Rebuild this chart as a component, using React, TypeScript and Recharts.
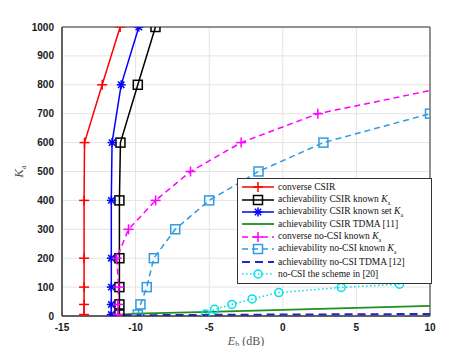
import { LineChart, Line, XAxis, YAxis, CartesianGrid, Legend, ReferenceArea } from 'recharts';

// E_b (dB) and K_a values, one pair of arrays per curve
const conversCsirEb = [-13.5, -13.5, -13.5, -13.5, -13.5, -13.47, -12.27, -11.05];
const conversCsirKa = [5, 40, 100, 200, 400, 600, 800, 1000];

const achCsirEb = [-11.1, -11.1, -11.1, -11.1, -11.1, -11.03, -9.85, -8.65];
const achCsirKa = [5, 40, 100, 200, 400, 600, 800, 1000];

const achCsirSetEb = [-11.65, -11.65, -11.65, -11.65, -11.65, -11.6, -10.98, -9.78];
const achCsirSetKa = [5, 40, 100, 200, 400, 600, 800, 1000];

const csirTdmaEb = [-11.7, -11, -10, -5, 0, 5, 10];
const csirTdmaKa = [0, 5, 8, 14, 21, 28, 35];

const conversNoCsiEb = [-11.2, -11.2, -11.15, -11.28, -10.48, -8.64, -6.27, -2.83, 2.38, 10];
const conversNoCsiKa = [5, 40, 100, 200, 300, 400, 500, 600, 700, 780];

const achNoCsiEb = [-9.85, -9.67, -9.24, -8.76, -7.31, -5.0, -1.65, 2.76, 10];
const achNoCsiKa = [5, 40, 100, 200, 300, 400, 500, 600, 700];

const noCsiTdmaEb = [-11.7, -5, 0, 5, 10];
const noCsiTdmaKa = [2, 4, 5, 6, 7];

const scheme20Eb = [-5.25, -4.64, -3.46, -2.08, -0.27, 3.97, 7.93];
const scheme20Ka = [7, 23, 40, 59, 81, 99, 110];

const xTicks = [-15, -10, -5, 0, 5, 10];
const yTicks = [0, 100, 200, 300, 400, 500, 600, 700, 800, 900, 1000];

const pts = (eb: number[], ka: number[]) => eb.map((x, i) => ({ eb: x, ka: ka[i] }));

type Marker = 'plus' | 'square' | 'star' | 'circle' | 'none';

const drawMarker = (kind: Marker, cx: number, cy: number, color: string, key?: any) => {
  if (kind === 'plus') {
    return (
      <g key={key} stroke={color} strokeWidth={1.5}>
        <line x1={cx - 5} y1={cy} x2={cx + 5} y2={cy} />
        <line x1={cx} y1={cy - 5} x2={cx} y2={cy + 5} />
      </g>
    );
  }
  if (kind === 'square') {
    return <rect key={key} x={cx - 4.5} y={cy - 4.5} width={9} height={9} fill="none" stroke={color} strokeWidth={1.5} />;
  }
  if (kind === 'star') {
    const r = 4.5;
    const d = r * 0.707;
    return (
      <g key={key} stroke={color} strokeWidth={1.5}>
        <line x1={cx - r} y1={cy} x2={cx + r} y2={cy} />
        <line x1={cx} y1={cy - r} x2={cx} y2={cy + r} />
        <line x1={cx - d} y1={cy - d} x2={cx + d} y2={cy + d} />
        <line x1={cx - d} y1={cy + d} x2={cx + d} y2={cy - d} />
      </g>
    );
  }
  if (kind === 'circle') {
    return <circle key={key} cx={cx} cy={cy} r={4} fill="none" stroke={color} strokeWidth={1.5} />;
  }
  return <g key={key} />;
};

const dotFn = (kind: Marker, color: string, skipLast = 0, count = 0) => (p: any) => {
  if (skipLast && p.index >= count - skipLast) return <g key={p.key ?? p.index} />;
  return drawMarker(kind, p.cx, p.cy, color, p.key ?? p.index);
};

const series = [
  { name: 'converse CSIR', data: pts(conversCsirEb, conversCsirKa), color: '#ff0000', dash: undefined, width: 1.5, marker: 'plus' as Marker },
  { name: 'achievability CSIR known', sub: true, data: pts(achCsirEb, achCsirKa), color: '#000000', dash: undefined, width: 1.5, marker: 'square' as Marker },
  { name: 'achievability CSIR known set', sub: true, data: pts(achCsirSetEb, achCsirSetKa), color: '#0000ff', dash: undefined, width: 1.5, marker: 'star' as Marker },
  { name: 'achievability CSIR TDMA [11]', data: pts(csirTdmaEb, csirTdmaKa), color: '#1f8f1f', dash: undefined, width: 1.8, marker: 'none' as Marker },
  { name: 'converse no-CSI known', sub: true, data: pts(conversNoCsiEb, conversNoCsiKa), color: '#ff00ff', dash: '6 4', width: 1.5, marker: 'plus' as Marker, skipLast: 1 },
  { name: 'achievability no-CSI known', sub: true, data: pts(achNoCsiEb, achNoCsiKa), color: '#2e9be3', dash: '6 4', width: 1.5, marker: 'square' as Marker },
  { name: 'achievability no-CSI TDMA [12]', data: pts(noCsiTdmaEb, noCsiTdmaKa), color: '#2323d0', dash: '8 5', width: 2, marker: 'none' as Marker },
  { name: 'no-CSI the scheme in [20]', data: pts(scheme20Eb, scheme20Ka), color: '#00e0e8', dash: '1.5 2.5', width: 1.5, marker: 'circle' as Marker },
];

const renderLegend = () => (
  <div
    style={{
      border: '1px solid #333',
      background: '#fff',
      padding: '2px 4px 3px 3px',
      fontFamily: '"Liberation Serif", serif',
      fontSize: 9.5,
      color: '#111',
      width: 186,
    }}
  >
    {series.map((s) => (
      <div key={s.name} style={{ display: 'flex', alignItems: 'center', height: 12.4, whiteSpace: 'nowrap' }}>
        <svg width={34} height={12} style={{ flex: 'none', marginRight: 3 }}>
          <line x1={1} y1={6} x2={33} y2={6} stroke={s.color} strokeWidth={s.width} strokeDasharray={s.dash} />
          {drawMarker(s.marker, 17, 6, s.color)}
        </svg>
        <span>
          {s.name}
          {s.sub ? (
            <>
              {' '}
              <i>K</i>
              <sub style={{ fontSize: 6 }}>a</sub>
            </>
          ) : null}
        </span>
      </div>
    ))}
  </div>
);

const YLabel = (props: any) => {
  const vb = props.viewBox;
  const x = vb.x + 15;
  const y = vb.y + vb.height / 2;
  return (
    <text x={x} y={y} transform={`rotate(-90 ${x} ${y})`} textAnchor="middle" fontFamily="Liberation Serif, serif" fontSize={13} fill="#555">
      <tspan fontStyle="italic">K</tspan>
      <tspan fontSize={8} dy={3}>a</tspan>
    </text>
  );
};

const XLabel = (props: any) => {
  const vb = props.viewBox;
  const x = vb.x + vb.width / 2;
  const y = vb.y + 29;
  return (
    <text x={x} y={y} textAnchor="middle" fontFamily="Liberation Serif, serif" fontSize={12} fill="#555">
      <tspan fontStyle="italic">E</tspan>
      <tspan fontSize={8} dy={2}>b</tspan>
      <tspan dy={-2}> (dB)</tspan>
    </text>
  );
};

const tickStyle = { fontFamily: 'Liberation Sans, Arial, sans-serif', fontSize: 10, fontWeight: 'bold', fill: '#1a1a1a' };

export default function App() {
  return (
    <div style={{ width: 458, height: 346, marginBottom: -8 }}>
      <LineChart width={458} height={346} margin={{ top: 19, right: 36, bottom: 13, left: 0 }}>
        <CartesianGrid stroke="#e4e4e4" strokeWidth={1} />
        <XAxis
          dataKey="eb"
          type="number"
          domain={[-15, 10]}
          ticks={xTicks}
          allowDataOverflow
          tickLine={false}
          tickSize={6}
          tickMargin={2}
          height={25}
          axisLine={{ stroke: '#333' }}
          tick={tickStyle}
          label={<XLabel />}
        />
        <YAxis
          dataKey="ka"
          type="number"
          domain={[0, 1000]}
          ticks={yTicks}
          allowDataOverflow
          tickLine={false}
          tickSize={6}
          tickMargin={2}
          width={54}
          axisLine={{ stroke: '#333' }}
          tick={tickStyle}
          label={<YLabel />}
        />
        <ReferenceArea x1={-15} x2={10} y1={0} y2={1000} fill="none" stroke="#333" strokeWidth={1} />
        {series.map((s) => (
          <Line
            key={s.name}
            data={s.data}
            dataKey="ka"
            name={s.name}
            type="linear"
            stroke={s.color}
            strokeWidth={s.width}
            strokeDasharray={s.dash}
            dot={s.marker === 'none' ? false : dotFn(s.marker, s.color, s.skipLast ?? 0, s.data.length)}
            activeDot={false}
            isAnimationActive={false}
          />
        ))}
        <Legend
          layout="vertical"
          align="center"
          verticalAlign="middle"
          content={renderLegend}
          wrapperStyle={{ left: 229, top: 170, width: 'auto' }}
        />
      </LineChart>
    </div>
  );
}
